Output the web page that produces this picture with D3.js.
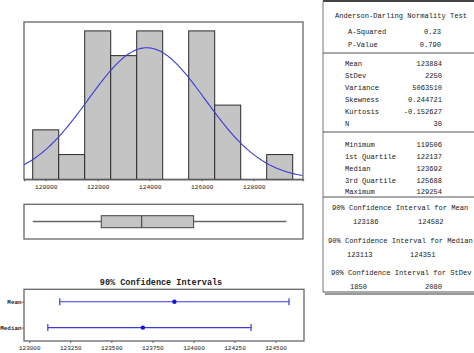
<!DOCTYPE html>
<html>
<head>
<meta charset="utf-8">
<script src="https://cdn.jsdelivr.net/npm/d3@7"></script>
<style>
  body { margin: 0; background: #fff; }
  svg { display: block; }
  text { font-family: "Liberation Mono", "DejaVu Sans Mono", monospace; fill: #222; }
</style>
</head>
<body>
<script>
// histogram data
const binCenters = [120000, 121000, 122000, 123000, 124000, 125000, 126000, 127000, 128000, 129000];
const binCounts = [2, 1, 6, 5, 6, 0, 6, 3, 0, 1];
const histTicks = [120000, 122000, 124000, 126000, 128000];
const fitMean = 123884, fitSd = 2250, sampleN = 30, binWidth = 1000;

// box plot: min, q1, median, q3, max
const boxValues = [119506, 122137, 123692, 125688, 129254];

// confidence intervals
const ciNames = ["Mean", "Median"];
const ciLow = [123186, 123113];
const ciHigh = [124582, 124351];
const ciCenter = [123884, 123692];
const ciTicks = [123000, 123250, 123500, 123750, 124000, 124250, 124500];

// summary table
const adLabels = ["A-Squared", "P-Value"];
const adValues = ["0.23", "0.790"];
const momentLabels = ["Mean", "StDev", "Variance", "Skewness", "Kurtosis", "N"];
const momentValues = ["123884", "2250", "5063510", "0.244721", "-0.152627", "30"];
const quantLabels = ["Minimum", "1st Quartile", "Median", "3rd Quartile", "Maximum"];
const quantValues = ["119506", "122137", "123692", "125688", "129254"];
const ciTitles = ["90% Confidence Interval for Mean", "90% Confidence Interval for Median", "90% Confidence Interval for StDev"];
const ciPairs = [["123186", "124582"], ["123113", "124351"], ["1850", "2080"]];

const W = 474, H = 353;
const svg = d3.select("body").append("svg").attr("width", W).attr("height", H);

const frameStroke = "#666";
const blue = "#3b3bd6";

// shared x scale for histogram + box plot
const x = d3.scaleLinear().domain([119165, 129896]).range([24, 303]);
const y = d3.scaleLinear().domain([0, 6.36]).range([179.3, 22]);

// histogram frame
const hist = svg.append("g");
hist.append("rect").attr("x", 24).attr("y", 22).attr("width", 279).attr("height", 157.3)
  .attr("fill", "none").attr("stroke", frameStroke).attr("stroke-width", 1.3);

hist.selectAll("rect.bar").data(binCenters).enter().append("rect")
  .attr("class", "bar")
  .attr("x", (d) => x(d - binWidth / 2))
  .attr("width", (d) => x(d + binWidth / 2) - x(d - binWidth / 2))
  .attr("y", (d, i) => y(binCounts[i]))
  .attr("height", (d, i) => y(0) - y(binCounts[i]))
  .attr("fill", (d, i) => binCounts[i] ? "#c4c4c4" : "none")
  .attr("stroke", (d, i) => binCounts[i] ? "#2a2a2a" : "none")
  .attr("stroke-width", 1);

// fitted normal curve from mean and stdev
const curveX = d3.range(119165, 129897, 50);
const pdf = (v) => sampleN * binWidth / (fitSd * Math.sqrt(2 * Math.PI)) * Math.exp(-0.5 * Math.pow((v - fitMean) / fitSd, 2));
hist.append("path")
  .attr("d", d3.line().x((d) => x(d)).y((d) => y(pdf(d)))(curveX))
  .attr("fill", "none").attr("stroke", blue).attr("stroke-width", 1.1);

const histAxis = d3.axisBottom(x).tickValues(histTicks).tickSize(2).tickFormat(d3.format("d"));
const ha = svg.append("g").attr("transform", "translate(0,179.3)").call(histAxis);
ha.select(".domain").attr("stroke", frameStroke).attr("stroke-width", 1.3);
ha.selectAll(".tick line").attr("stroke", "#666");
ha.selectAll(".tick text").attr("y", 5).attr("font-size", 6.2).attr("font-family", "Liberation Serif, serif").attr("fill", "#333");

// box plot
const bp = svg.append("g");
bp.append("rect").attr("x", 24).attr("y", 204.3).attr("width", 279).attr("height", 34.7)
  .attr("fill", "none").attr("stroke", frameStroke).attr("stroke-width", 1.3);
bp.append("line").attr("x1", x(boxValues[0])).attr("x2", x(boxValues[1])).attr("y1", 221.5).attr("y2", 221.5)
  .attr("stroke", "#666").attr("stroke-width", 1.5);
bp.append("line").attr("x1", x(boxValues[3])).attr("x2", x(boxValues[4])).attr("y1", 221.5).attr("y2", 221.5)
  .attr("stroke", "#666").attr("stroke-width", 1.5);
bp.append("rect").attr("x", x(boxValues[1])).attr("width", x(boxValues[3]) - x(boxValues[1]))
  .attr("y", 215.7).attr("height", 12).attr("fill", "#c4c4c4").attr("stroke", "#444").attr("stroke-width", 1);
bp.append("line").attr("x1", x(boxValues[2])).attr("x2", x(boxValues[2])).attr("y1", 215.7).attr("y2", 227.7)
  .attr("stroke", "#333").attr("stroke-width", 1);

// confidence interval panel
const cx = d3.scaleLinear().domain([123186, 124582]).range([59.8, 289]);
const cy = d3.scaleBand().domain(ciNames).range([289.3, 341]).paddingInner(0).paddingOuter(0);
const ci = svg.append("g");
ci.append("text").attr("x", 161).attr("y", 284.5).attr("text-anchor", "middle")
  .attr("font-size", 8.5).attr("font-weight", "bold").text("90% Confidence Intervals");
ci.append("rect").attr("x", 24).attr("y", 289.3).attr("width", 280).attr("height", 51.7)
  .attr("fill", "none").attr("stroke", frameStroke).attr("stroke-width", 1.3);

const rowY = (d) => cy(d) + cy.bandwidth() / 2 - 0.5;
ciNames.forEach((name, i) => {
  const yy = rowY(name);
  ci.append("line").attr("x1", cx(ciLow[i])).attr("x2", cx(ciHigh[i])).attr("y1", yy).attr("y2", yy)
    .attr("stroke", blue).attr("stroke-width", 1.2);
  [ciLow[i], ciHigh[i]].forEach((v) => {
    ci.append("line").attr("x1", cx(v)).attr("x2", cx(v)).attr("y1", yy - 3.5).attr("y2", yy + 3.5)
      .attr("stroke", blue).attr("stroke-width", 1.2);
  });
  ci.append("circle").attr("cx", cx(ciCenter[i])).attr("cy", yy).attr("r", 2.2).attr("fill", "#1010e0");
});

const ciYAxis = d3.axisLeft(d3.scalePoint().domain(ciNames).range([rowY("Mean"), rowY("Median")])).tickSize(2);
const cya = svg.append("g").attr("transform", "translate(24,0)").call(ciYAxis);
cya.select(".domain").remove();
cya.selectAll(".tick line").attr("stroke", "#666");
cya.selectAll(".tick text").attr("x", -2.5).attr("font-size", 5.9).attr("font-weight", "bold").attr("fill", "#222");

const ciXAxis = d3.axisBottom(cx).tickValues(ciTicks).tickSize(2).tickFormat(d3.format("d"));
const cxa = svg.append("g").attr("transform", "translate(0,341)").call(ciXAxis);
cxa.select(".domain").remove();
cxa.selectAll(".tick line").attr("stroke", "#666");
cxa.selectAll(".tick text").attr("y", 5).attr("font-size", 6).attr("font-family", "Liberation Serif, serif").attr("fill", "#333");

// summary table
const tb = svg.append("g");
const tL = 323, tTop = 1, tBot = 292;
tb.append("line").attr("x1", tL).attr("x2", W).attr("y1", tTop).attr("y2", tTop).attr("stroke", "#444").attr("stroke-width", 2);
tb.append("line").attr("x1", tL).attr("x2", tL).attr("y1", tTop).attr("y2", tBot).attr("stroke", "#777").attr("stroke-width", 1);
tb.append("line").attr("x1", tL).attr("x2", W).attr("y1", tBot).attr("y2", tBot).attr("stroke", "#555").attr("stroke-width", 1.2);
tb.append("line").attr("x1", tL + 2).attr("x2", W).attr("y1", tBot + 2).attr("y2", tBot + 2).attr("stroke", "#999").attr("stroke-width", 2);
[53, 132, 197].forEach((yy) => {
  tb.append("line").attr("x1", tL).attr("x2", W).attr("y1", yy).attr("y2", yy).attr("stroke", "#555").attr("stroke-width", 1);
});

const fs = 7.1;
tb.append("text").attr("x", 335).attr("y", 18).attr("font-size", fs).text("Anderson-Darling Normality Test");

function block(labels, values, ys, lx, vx) {
  labels.forEach((l, i) => {
    tb.append("text").attr("x", lx).attr("y", ys[i] + 2.5).attr("font-size", fs).text(l);
    tb.append("text").attr("x", vx).attr("y", ys[i] + 2.5).attr("font-size", fs).attr("text-anchor", "end").text(values[i]);
  });
}
block(adLabels, adValues, [31, 44], 348, 441);
block(momentLabels, momentValues, [63, 75, 87, 99, 111, 123], 345, 442);
block(quantLabels, quantValues, [144.5, 156.3, 168.1, 180, 191.8], 345, 442);

const ciTitleY = [207.5, 240.5, 272];
const ciTitleX = [332, 328, 331];
const ciValX = [[353, 418], [347, 410], [350, 425]];
ciTitles.forEach((t, i) => {
  tb.append("text").attr("x", ciTitleX[i]).attr("y", ciTitleY[i] + 2.5).attr("font-size", fs).text(t);
  ciPairs[i].forEach((v, j) => {
    tb.append("text").attr("x", ciValX[i][j]).attr("y", ciTitleY[i] + 16.5).attr("font-size", fs).text(v);
  });
});
</script>
</body>
</html>
